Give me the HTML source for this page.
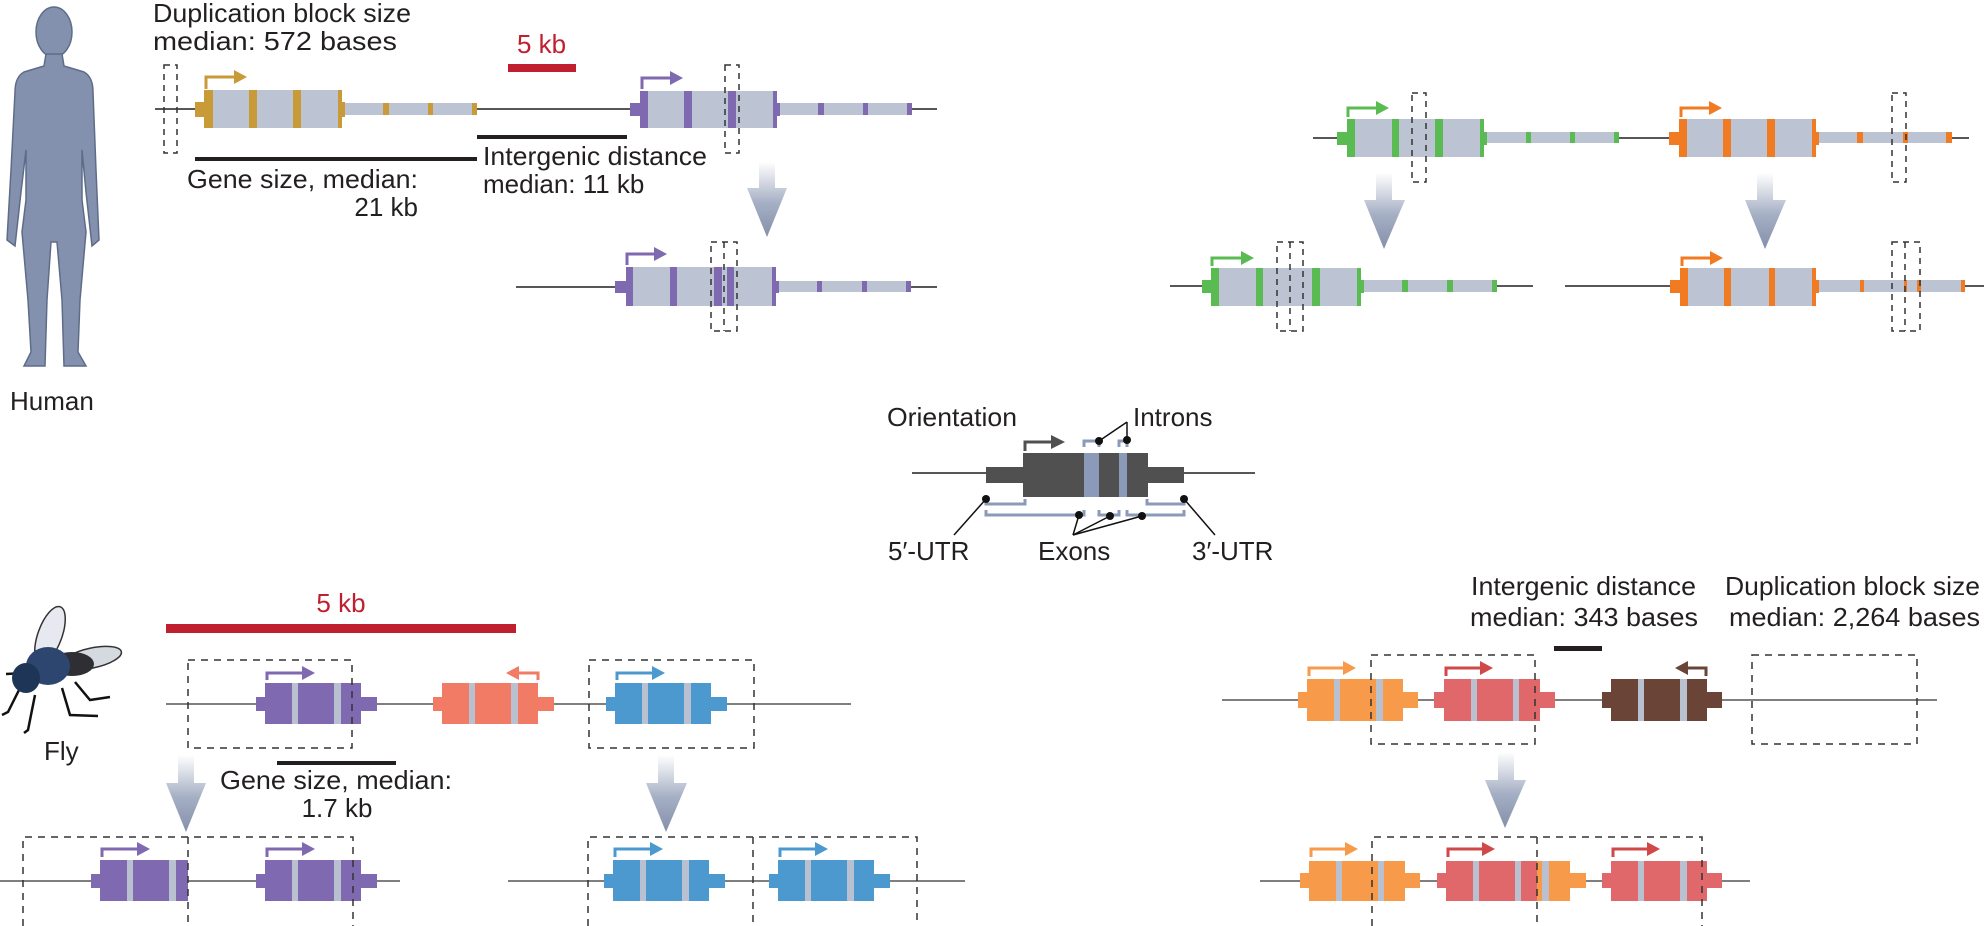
<!DOCTYPE html>
<html><head><meta charset="utf-8"><style>
html,body{margin:0;padding:0;background:#fff;}
svg{display:block;}
text{font-family:"Liberation Sans",Arial,sans-serif;font-size:26px;fill:#231F20;}
</style></head><body>
<svg width="1984" height="926" viewBox="0 0 1984 926" xmlns="http://www.w3.org/2000/svg">
<defs>
<linearGradient id="ba" x1="0" y1="0" x2="0" y2="1">
<stop offset="0" stop-color="#ffffff"/><stop offset="0.55" stop-color="#A5AFC4"/><stop offset="1" stop-color="#8490AA"/>
</linearGradient>
</defs>

<!-- ===== Human silhouette ===== -->
<g fill="#8391AE" stroke="#5F6C88" stroke-width="1.5">
<ellipse cx="54" cy="32" rx="18" ry="25"/>
<path d="M46 54 L62 54 L64 66 L84 72 Q93 77 93 92 L96 170 L99 240 L92 246 L86 192 L82 150 L82 200 L86 232 L80 300 L78 352 L86 366 L64 366 L62 300 L57 242 L51 242 L47 300 L45 366 L24 366 L31 352 L28 300 L22 232 L26 200 L26 150 L21 192 L15 246 L7 240 L11 170 L15 92 Q15 77 24 72 L44 66 Z"/>
</g>
<text x="10" y="410">Human</text>

<!-- ===== Top labels ===== -->
<text x="153" y="22" textLength="258" lengthAdjust="spacingAndGlyphs">Duplication block size</text>
<text x="153" y="50" textLength="244" lengthAdjust="spacingAndGlyphs">median: 572 bases</text>
<text x="517" y="53" fill="#C01F2F" style="fill:#C01F2F">5 kb</text>
<rect x="508" y="64" width="68" height="8" fill="#C01F2F"/>
<rect x="195" y="157" width="282" height="4" fill="#231F20"/>
<rect x="477" y="135" width="150" height="4" fill="#231F20"/>
<text x="187" y="188" textLength="231" lengthAdjust="spacingAndGlyphs">Gene size, median:</text>
<text x="418" y="216" text-anchor="end">21 kb</text>
<text x="483" y="165" textLength="224" lengthAdjust="spacingAndGlyphs">Intergenic distance</text>
<text x="483" y="193">median: 11 kb</text>

<!-- ===== Human gene line 1 (gold + purple) ===== -->
<line x1="155" y1="109" x2="937" y2="109" stroke="#231F20" stroke-width="1.5"/>
<g>
<rect x="195" y="102" width="10" height="15" fill="#C99A38"/>
<rect x="204" y="90" width="138" height="38" fill="#BCC4D4"/>
<rect x="204" y="90" width="9" height="38" fill="#C99A38"/>
<rect x="249" y="90" width="8" height="38" fill="#C99A38"/>
<rect x="293" y="90" width="8" height="38" fill="#C99A38"/>
<rect x="338" y="90" width="4" height="38" fill="#C99A38"/>
<rect x="342" y="102" width="3" height="15" fill="#C99A38"/>
<rect x="345" y="103" width="132" height="12" fill="#BCC4D4"/>
<rect x="383" y="103" width="6" height="12" fill="#C99A38"/>
<rect x="428" y="103" width="5" height="12" fill="#C99A38"/>
<rect x="472" y="103" width="5" height="12" fill="#C99A38"/>
<path d="M206 89 V77 H236" fill="none" stroke="#C99A38" stroke-width="3"/>
<path d="M234 70 L247 77 L234 84 Z" fill="#C99A38"/>
</g>
<g>
<rect x="630" y="103" width="10" height="13" fill="#7F69B0"/>
<rect x="640" y="91" width="137" height="37" fill="#BCC4D4"/>
<rect x="640" y="91" width="8" height="37" fill="#7F69B0"/>
<rect x="684" y="91" width="8" height="37" fill="#7F69B0"/>
<rect x="728" y="91" width="8" height="37" fill="#7F69B0"/>
<rect x="773" y="91" width="4" height="37" fill="#7F69B0"/>
<rect x="777" y="103" width="3" height="13" fill="#7F69B0"/>
<rect x="780" y="103" width="132" height="12" fill="#BCC4D4"/>
<rect x="818" y="103" width="6" height="12" fill="#7F69B0"/>
<rect x="863" y="103" width="5" height="12" fill="#7F69B0"/>
<rect x="907" y="103" width="5" height="12" fill="#7F69B0"/>
<path d="M642 89 V78 H672" fill="none" stroke="#7F69B0" stroke-width="3"/>
<path d="M670 71 L683 78 L670 85 Z" fill="#7F69B0"/>
</g>
<g fill="none" stroke="#333" stroke-width="1.5" stroke-dasharray="6 5">
<rect x="164" y="65" width="13" height="88"/>
<rect x="725" y="65" width="14" height="88"/>
</g>

<!-- big arrows -->
<path d="M759 162 H775 V188 H787 L767 237 L747 188 H759 Z" fill="url(#ba)"/>
<path d="M1376 173 H1392 V200 H1405 L1384 249 L1364 200 H1376 Z" fill="url(#ba)"/>
<path d="M1757 173 H1773 V200 H1786 L1765 249 L1745 200 H1757 Z" fill="url(#ba)"/>
<path d="M178 755 H194 V783 H206 L186 832 L166 783 H178 Z" fill="url(#ba)"/>
<path d="M658 755 H674 V783 H687 L666 832 L646 783 H658 Z" fill="url(#ba)"/>
<path d="M1498 752 H1514 V780 H1526 L1505 828 L1485 780 H1498 Z" fill="url(#ba)"/>

<!-- purple lower -->
<line x1="516" y1="287" x2="937" y2="287" stroke="#231F20" stroke-width="1.5"/>
<g>
<rect x="615" y="281" width="11" height="12" fill="#7F69B0"/>
<rect x="626" y="267" width="150" height="39" fill="#BCC4D4"/>
<rect x="626" y="267" width="7" height="39" fill="#7F69B0"/>
<rect x="670" y="267" width="7" height="39" fill="#7F69B0"/>
<rect x="714" y="267" width="8" height="39" fill="#7F69B0"/>
<rect x="727" y="267" width="7" height="39" fill="#7F69B0"/>
<rect x="772" y="267" width="4" height="39" fill="#7F69B0"/>
<rect x="776" y="281" width="3" height="12" fill="#7F69B0"/>
<rect x="779" y="281" width="132" height="11" fill="#BCC4D4"/>
<rect x="817" y="281" width="5" height="11" fill="#7F69B0"/>
<rect x="862" y="281" width="5" height="11" fill="#7F69B0"/>
<rect x="906" y="281" width="5" height="11" fill="#7F69B0"/>
<path d="M627 265 V254 H656" fill="none" stroke="#7F69B0" stroke-width="3"/>
<path d="M654 247 L667 254 L654 261 Z" fill="#7F69B0"/>
</g>
<g fill="none" stroke="#333" stroke-width="1.5" stroke-dasharray="6 5">
<rect x="711" y="242" width="26" height="89"/>
<line x1="724" y1="242" x2="724" y2="331"/>
</g>

<!-- green/orange top line -->
<line x1="1313" y1="138" x2="1969" y2="138" stroke="#231F20" stroke-width="1.5"/>
<g>
<rect x="1337" y="132" width="10" height="13" fill="#5BBB53"/>
<rect x="1347" y="119" width="137" height="38" fill="#BCC4D4"/>
<rect x="1347" y="119" width="8" height="38" fill="#5BBB53"/>
<rect x="1392" y="119" width="7" height="38" fill="#5BBB53"/>
<rect x="1435" y="119" width="8" height="38" fill="#5BBB53"/>
<rect x="1480" y="119" width="4" height="38" fill="#5BBB53"/>
<rect x="1484" y="132" width="3" height="13" fill="#5BBB53"/>
<rect x="1487" y="132" width="132" height="11" fill="#BCC4D4"/>
<rect x="1526" y="132" width="5" height="11" fill="#5BBB53"/>
<rect x="1570" y="132" width="5" height="11" fill="#5BBB53"/>
<rect x="1614" y="132" width="5" height="11" fill="#5BBB53"/>
<path d="M1348 117 V108 H1378" fill="none" stroke="#5BBB53" stroke-width="3"/>
<path d="M1376 101 L1389 108 L1376 115 Z" fill="#5BBB53"/>
</g>
<g>
<rect x="1669" y="132" width="10" height="13" fill="#F07B22"/>
<rect x="1679" y="119" width="137" height="38" fill="#BCC4D4"/>
<rect x="1679" y="119" width="8" height="38" fill="#F07B22"/>
<rect x="1723" y="119" width="8" height="38" fill="#F07B22"/>
<rect x="1767" y="119" width="8" height="38" fill="#F07B22"/>
<rect x="1812" y="119" width="4" height="38" fill="#F07B22"/>
<rect x="1816" y="132" width="3" height="13" fill="#F07B22"/>
<rect x="1819" y="132" width="133" height="11" fill="#BCC4D4"/>
<rect x="1857" y="132" width="6" height="11" fill="#F07B22"/>
<rect x="1903" y="132" width="5" height="11" fill="#F07B22"/>
<rect x="1946" y="132" width="6" height="11" fill="#F07B22"/>
<path d="M1681 117 V108 H1711" fill="none" stroke="#F07B22" stroke-width="3"/>
<path d="M1709 101 L1722 108 L1709 115 Z" fill="#F07B22"/>
</g>
<g fill="none" stroke="#333" stroke-width="1.5" stroke-dasharray="6 5">
<rect x="1412" y="93" width="14" height="89"/>
<rect x="1892" y="93" width="14" height="89"/>
</g>

<!-- green lower -->
<line x1="1170" y1="286" x2="1533" y2="286" stroke="#231F20" stroke-width="1.5"/>
<g>
<rect x="1202" y="280" width="10" height="13" fill="#5BBB53"/>
<rect x="1211" y="268" width="150" height="38" fill="#BCC4D4"/>
<rect x="1211" y="268" width="8" height="38" fill="#5BBB53"/>
<rect x="1256" y="268" width="7" height="38" fill="#5BBB53"/>
<rect x="1312" y="268" width="8" height="38" fill="#5BBB53"/>
<rect x="1357" y="268" width="4" height="38" fill="#5BBB53"/>
<rect x="1361" y="280" width="3" height="13" fill="#5BBB53"/>
<rect x="1364" y="280" width="133" height="12" fill="#BCC4D4"/>
<rect x="1402" y="280" width="6" height="12" fill="#5BBB53"/>
<rect x="1447" y="280" width="6" height="12" fill="#5BBB53"/>
<rect x="1492" y="280" width="5" height="12" fill="#5BBB53"/>
<path d="M1212 266 V258 H1243" fill="none" stroke="#5BBB53" stroke-width="3"/>
<path d="M1241 251 L1254 258 L1241 265 Z" fill="#5BBB53"/>
</g>
<!-- orange lower -->
<line x1="1565" y1="286" x2="1984" y2="286" stroke="#231F20" stroke-width="1.5"/>
<g>
<rect x="1670" y="280" width="10" height="13" fill="#F07B22"/>
<rect x="1680" y="268" width="136" height="38" fill="#BCC4D4"/>
<rect x="1680" y="268" width="8" height="38" fill="#F07B22"/>
<rect x="1724" y="268" width="7" height="38" fill="#F07B22"/>
<rect x="1769" y="268" width="6" height="38" fill="#F07B22"/>
<rect x="1812" y="268" width="4" height="38" fill="#F07B22"/>
<rect x="1816" y="280" width="3" height="13" fill="#F07B22"/>
<rect x="1819" y="280" width="146" height="12" fill="#BCC4D4"/>
<rect x="1860" y="280" width="4" height="12" fill="#F07B22"/>
<rect x="1904" y="280" width="3" height="12" fill="#F07B22"/>
<rect x="1917" y="280" width="4" height="12" fill="#F07B22"/>
<rect x="1961" y="280" width="4" height="12" fill="#F07B22"/>
<path d="M1682 266 V258 H1712" fill="none" stroke="#F07B22" stroke-width="3"/>
<path d="M1710 251 L1723 258 L1710 265 Z" fill="#F07B22"/>
</g>
<g fill="none" stroke="#333" stroke-width="1.5" stroke-dasharray="6 5">
<rect x="1277" y="242" width="26" height="89"/>
<line x1="1290" y1="242" x2="1290" y2="331"/>
<rect x="1892" y="242" width="28" height="89"/>
<line x1="1905" y1="242" x2="1905" y2="331"/>
</g>

<!-- ===== Legend ===== -->
<text x="887" y="426" textLength="130" lengthAdjust="spacingAndGlyphs">Orientation</text>
<text x="1133" y="426">Introns</text>
<line x1="912" y1="473" x2="1255" y2="473" stroke="#231F20" stroke-width="1.5"/>
<rect x="986" y="467" width="198" height="16" fill="#505050"/>
<rect x="1023" y="453" width="125" height="44" fill="#505050"/>
<rect x="1084" y="453" width="15" height="44" fill="#8B9AB8"/>
<rect x="1119" y="453" width="8" height="44" fill="#8B9AB8"/>
<path d="M1025 451 V442 H1053" fill="none" stroke="#505050" stroke-width="3"/>
<path d="M1051 435 L1065 442 L1051 449 Z" fill="#505050"/>
<g fill="none" stroke="#8B9AB8" stroke-width="3">
<path d="M1084 447 V441 H1099 V447"/>
<path d="M1119 447 V441 H1127 V447"/>
<path d="M986 499 V504 H1025 V499"/>
<path d="M1147 499 V504 H1184 V499"/>
<path d="M986 510 V515 H1084 V510"/>
<path d="M1099 510 V515 H1119 V510"/>
<path d="M1127 510 V515 H1184 V510"/>
</g>
<g stroke="#111" stroke-width="1.5">
<line x1="986" y1="499" x2="954" y2="535"/>
<line x1="1099" y1="441" x2="1127" y2="422"/>
<line x1="1127" y1="440" x2="1127" y2="422"/>
<line x1="1079" y1="515" x2="1073" y2="535"/>
<line x1="1110" y1="516" x2="1073" y2="535"/>
<line x1="1142" y1="516" x2="1073" y2="535"/>
<line x1="1184" y1="499" x2="1215" y2="535"/>
</g>
<g fill="#111">
<circle cx="986" cy="499" r="4"/><circle cx="1099" cy="441" r="4"/><circle cx="1127" cy="440" r="4"/>
<circle cx="1079" cy="515" r="4"/><circle cx="1110" cy="516" r="4"/><circle cx="1142" cy="516" r="4"/>
<circle cx="1184" cy="499" r="4"/>
</g>
<text x="888" y="560">5′-UTR</text>
<text x="1038" y="560">Exons</text>
<text x="1192" y="560">3′-UTR</text>

<!-- ===== Fly ===== -->
<g stroke="#111" stroke-width="2.5" fill="none">
<path d="M20 688 L8 712 L2 715"/>
<path d="M35 695 L28 730 L24 733"/>
<path d="M62 688 L70 715 L98 716"/>
<path d="M75 682 L90 700 L110 697"/>
<path d="M25 673 L6 674"/>
</g>
<ellipse cx="50" cy="635" rx="12" ry="30" transform="rotate(20 50 635)" fill="#E6E9EF" stroke="#333" stroke-width="1.5"/>
<ellipse cx="92" cy="658" rx="30" ry="10" transform="rotate(-12 92 658)" fill="#D5D9E0" stroke="#333" stroke-width="1.5"/>
<ellipse cx="72" cy="664" rx="22" ry="12" fill="#2E2E33"/>
<ellipse cx="48" cy="666" rx="22" ry="19" fill="#2D4670"/>
<ellipse cx="26" cy="678" rx="14" ry="15" fill="#1F3558"/>
<text x="44" y="760">Fly</text>

<!-- fly labels -->
<text x="341" y="612" text-anchor="middle" style="fill:#C01F2F">5 kb</text>
<rect x="166" y="624" width="350" height="9" fill="#C01F2F"/>
<rect x="277" y="761" width="119" height="4" fill="#231F20"/>
<text x="220" y="789" textLength="232" lengthAdjust="spacingAndGlyphs">Gene size, median:</text>
<text x="337" y="817" text-anchor="middle">1.7 kb</text>

<!-- fly top row -->
<line x1="166" y1="704" x2="851" y2="704" stroke="#555" stroke-width="1.5"/>
<g>
<rect x="256" y="697" width="121" height="14" fill="#7F69B0"/>
<rect x="265" y="683" width="96" height="41" fill="#7F69B0"/>
<rect x="292" y="683" width="6" height="41" fill="#B9C0D0"/>
<rect x="334" y="683" width="7" height="41" fill="#B9C0D0"/>
<path d="M267 680 V673 H304" fill="none" stroke="#7F69B0" stroke-width="3"/>
<path d="M302 666 L315 673 L302 680 Z" fill="#7F69B0"/>
</g>
<g>
<rect x="433" y="697" width="121" height="14" fill="#F27B65"/>
<rect x="442" y="683" width="96" height="41" fill="#F27B65"/>
<rect x="469" y="683" width="6" height="41" fill="#B9C0D0"/>
<rect x="511" y="683" width="7" height="41" fill="#B9C0D0"/>
<path d="M538 680 V673 H517" fill="none" stroke="#F27B65" stroke-width="3"/>
<path d="M519 666 L506 673 L519 680 Z" fill="#F27B65"/>
</g>
<g>
<rect x="606" y="697" width="121" height="14" fill="#4C99CF"/>
<rect x="615" y="683" width="96" height="41" fill="#4C99CF"/>
<rect x="642" y="683" width="6" height="41" fill="#B9C0D0"/>
<rect x="684" y="683" width="7" height="41" fill="#B9C0D0"/>
<path d="M617 680 V673 H654" fill="none" stroke="#4C99CF" stroke-width="3"/>
<path d="M652 666 L665 673 L652 680 Z" fill="#4C99CF"/>
</g>
<g fill="none" stroke="#333" stroke-width="1.5" stroke-dasharray="7 6">
<rect x="188" y="660" width="164" height="88"/>
<rect x="589" y="660" width="165" height="88"/>
</g>

<!-- fly bottom left -->
<line x1="0" y1="881" x2="400" y2="881" stroke="#555" stroke-width="1.5"/>
<g>
<rect x="91" y="874" width="97" height="14" fill="#7F69B0"/>
<rect x="100" y="860" width="88" height="41" fill="#7F69B0"/>
<rect x="127" y="860" width="6" height="41" fill="#B9C0D0"/>
<rect x="169" y="860" width="7" height="41" fill="#B9C0D0"/>
<path d="M102 857 V849 H139" fill="none" stroke="#7F69B0" stroke-width="3"/>
<path d="M137 842 L150 849 L137 856 Z" fill="#7F69B0"/>
</g>
<g>
<rect x="256" y="874" width="121" height="14" fill="#7F69B0"/>
<rect x="265" y="860" width="96" height="41" fill="#7F69B0"/>
<rect x="292" y="860" width="6" height="41" fill="#B9C0D0"/>
<rect x="334" y="860" width="7" height="41" fill="#B9C0D0"/>
<path d="M267 857 V849 H304" fill="none" stroke="#7F69B0" stroke-width="3"/>
<path d="M302 842 L315 849 L302 856 Z" fill="#7F69B0"/>
</g>
<!-- fly bottom blue -->
<line x1="508" y1="881" x2="965" y2="881" stroke="#555" stroke-width="1.5"/>
<g>
<rect x="604" y="874" width="121" height="14" fill="#4C99CF"/>
<rect x="613" y="860" width="96" height="41" fill="#4C99CF"/>
<rect x="640" y="860" width="6" height="41" fill="#B9C0D0"/>
<rect x="682" y="860" width="7" height="41" fill="#B9C0D0"/>
<path d="M615 857 V849 H652" fill="none" stroke="#4C99CF" stroke-width="3"/>
<path d="M650 842 L663 849 L650 856 Z" fill="#4C99CF"/>
</g>
<g>
<rect x="769" y="874" width="121" height="14" fill="#4C99CF"/>
<rect x="778" y="860" width="96" height="41" fill="#4C99CF"/>
<rect x="805" y="860" width="6" height="41" fill="#B9C0D0"/>
<rect x="847" y="860" width="7" height="41" fill="#B9C0D0"/>
<path d="M780 857 V849 H817" fill="none" stroke="#4C99CF" stroke-width="3"/>
<path d="M815 842 L828 849 L815 856 Z" fill="#4C99CF"/>
</g>
<g fill="none" stroke="#333" stroke-width="1.5" stroke-dasharray="7 6">
<path d="M23 926 V837 H353 V926 M188 837 V926"/>
<path d="M588 926 V837 H917 V926 M753 837 V926"/>
</g>

<!-- ===== bottom right ===== -->
<text x="1471" y="595" textLength="225" lengthAdjust="spacingAndGlyphs">Intergenic distance</text>
<text x="1470" y="626" textLength="228" lengthAdjust="spacingAndGlyphs">median: 343 bases</text>
<text x="1725" y="595" textLength="255" lengthAdjust="spacingAndGlyphs">Duplication block size</text>
<text x="1729" y="626" textLength="251" lengthAdjust="spacingAndGlyphs">median: 2,264 bases</text>
<rect x="1554" y="646" width="48" height="5" fill="#231F20"/>

<line x1="1222" y1="700" x2="1937" y2="700" stroke="#555" stroke-width="1.5"/>
<g>
<rect x="1298" y="692" width="120" height="16" fill="#F79A4A"/>
<rect x="1307" y="679" width="96" height="42" fill="#F79A4A"/>
<rect x="1334" y="679" width="6" height="42" fill="#B9C0D0"/>
<rect x="1376" y="679" width="7" height="42" fill="#B9C0D0"/>
<path d="M1309 676 V668 H1345" fill="none" stroke="#F79A4A" stroke-width="3"/>
<path d="M1343 661 L1356 668 L1343 675 Z" fill="#F79A4A"/>
</g>
<g>
<rect x="1434" y="692" width="121" height="16" fill="#E0686A"/>
<rect x="1444" y="679" width="96" height="42" fill="#E0686A"/>
<rect x="1471" y="679" width="6" height="42" fill="#B9C0D0"/>
<rect x="1513" y="679" width="6" height="42" fill="#B9C0D0"/>
<path d="M1446 676 V668 H1482" fill="none" stroke="#D04848" stroke-width="3"/>
<path d="M1480 661 L1493 668 L1480 675 Z" fill="#D04848"/>
</g>
<g>
<rect x="1602" y="692" width="120" height="16" fill="#6A4537"/>
<rect x="1611" y="679" width="96" height="42" fill="#6A4537"/>
<rect x="1638" y="679" width="6" height="42" fill="#B9C0D0"/>
<rect x="1680" y="679" width="7" height="42" fill="#B9C0D0"/>
<path d="M1706 676 V668 H1686" fill="none" stroke="#6A4537" stroke-width="3"/>
<path d="M1688 661 L1675 668 L1688 675 Z" fill="#6A4537"/>
</g>
<g fill="none" stroke="#333" stroke-width="1.5" stroke-dasharray="7 6">
<rect x="1371" y="655" width="164" height="89"/>
<rect x="1752" y="655" width="165" height="89"/>
</g>

<line x1="1260" y1="881" x2="1750" y2="881" stroke="#555" stroke-width="1.5"/>
<g>
<rect x="1300" y="873" width="120" height="15" fill="#F79A4A"/>
<rect x="1309" y="861" width="96" height="40" fill="#F79A4A"/>
<rect x="1336" y="861" width="6" height="40" fill="#B9C0D0"/>
<rect x="1378" y="861" width="6" height="40" fill="#B9C0D0"/>
<path d="M1311 857 V849 H1347" fill="none" stroke="#F79A4A" stroke-width="3"/>
<path d="M1345 842 L1358 849 L1345 856 Z" fill="#F79A4A"/>
</g>
<g>
<rect x="1437" y="873" width="149" height="15" fill="#F79A4A"/>
<rect x="1437" y="873" width="100" height="15" fill="#E0686A"/>
<rect x="1446" y="861" width="91" height="40" fill="#E0686A"/>
<rect x="1537" y="861" width="33" height="40" fill="#F79A4A"/>
<rect x="1473" y="861" width="6" height="40" fill="#B9C0D0"/>
<rect x="1515" y="861" width="6" height="40" fill="#B9C0D0"/>
<rect x="1542" y="861" width="7" height="40" fill="#B9C0D0"/>
<path d="M1448 857 V849 H1484" fill="none" stroke="#D04848" stroke-width="3"/>
<path d="M1482 842 L1495 849 L1482 856 Z" fill="#D04848"/>
</g>
<g>
<rect x="1602" y="873" width="120" height="15" fill="#E0686A"/>
<rect x="1611" y="861" width="96" height="40" fill="#E0686A"/>
<rect x="1638" y="861" width="6" height="40" fill="#B9C0D0"/>
<rect x="1680" y="861" width="7" height="40" fill="#B9C0D0"/>
<path d="M1613 857 V849 H1649" fill="none" stroke="#D04848" stroke-width="3"/>
<path d="M1647 842 L1660 849 L1647 856 Z" fill="#D04848"/>
</g>
<g fill="none" stroke="#333" stroke-width="1.5" stroke-dasharray="7 6">
<path d="M1372 926 V837 H1702 V926 M1537 837 V926"/>
</g>
</svg>
</body></html>
